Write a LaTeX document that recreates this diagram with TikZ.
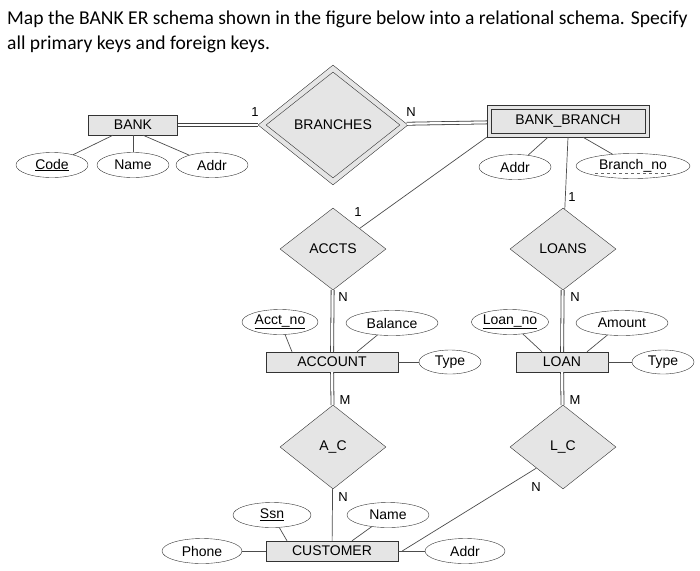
\documentclass[tikz,border=0pt]{standalone}
\usepackage{fontspec}
\setmainfont{Liberation Sans}
\newfontfamily\titlefont{Carlito}
\usetikzlibrary{shapes.geometric,calc}
\begin{document}
\begin{tikzpicture}[x=1pt,y=-1pt,
  ent/.style={draw=black!80,fill=black!10,rectangle,minimum height=20pt,inner sep=0pt,font=\fontsize{14}{14}\selectfont},
  rel/.style={draw=black!80,fill=black!10,diamond,inner sep=0pt,font=\fontsize{14}{14}\selectfont},
  att/.style={draw=black!80,ellipse,minimum height=25pt,inner sep=0pt,font=\fontsize{14}{14}\selectfont},
  ln/.style={draw=black!70,line width=0.7pt},
  dl/.style={draw=black!75,double=white,double distance=2.2pt,line width=0.8pt},
  lab/.style={font=\fontsize{13}{13}\selectfont,inner sep=0pt}]
\useasboundingbox (0,0) rectangle (700,570);
\node[anchor=west,align=left,font=\titlefont\fontsize{19.6}{25}\selectfont,inner sep=0pt] (title) at (7,32)
 {Map the BANK ER schema shown in the figure below into a relational schema. Specify\\all primary keys and foreign keys.};
% entities
\node[ent,minimum width=89pt] (bank) at (133,125) {BANK};
\node[ent,minimum width=162pt,minimum height=32pt] (bb) at (568,121) {};
\node[ent,minimum width=154pt,minimum height=24pt] (bbi) at (568,121) {BANK\_BRANCH};
\node[ent,minimum width=132pt] (acc) at (332,362) {ACCOUNT};
\node[ent,minimum width=92pt] (loan) at (562,362) {LOAN};
\node[ent,minimum width=132pt] (cust) at (332,551) {CUSTOMER};
% relationships
\node[rel,minimum width=150pt,minimum height=120pt] (br) at (333,125) {};
\node[draw=black!80,diamond,inner sep=0pt,minimum width=134pt,minimum height=106pt,font=\fontsize{14}{14}\selectfont] (bri) at (333,125) {BRANCHES};
\node[rel,minimum width=106pt,minimum height=82pt] (accts) at (333,249) {ACCTS};
\node[rel,minimum width=106pt,minimum height=82pt] (loans) at (563,249) {LOANS};
\node[rel,minimum width=106pt,minimum height=84pt] (ac) at (333,447) {A\_C};
\node[rel,minimum width=106pt,minimum height=84pt] (lc) at (563,447) {L\_C};
% attributes
\node[att,minimum width=72pt] (code) at (52,165) {\underline{Code}};
\node[att,minimum width=72pt] (bname) at (133,165) {Name};
\node[att,minimum width=72pt] (baddr) at (212,165) {Addr};
\node[att,minimum width=72pt] (bbaddr) at (515,167) {Addr};
\node[att,minimum width=114pt] (brno) at (633,166) {Branch\_no};
\draw[dashed,black!60] ([xshift=-38pt,yshift=-7pt]brno.center) -- ([xshift=38pt,yshift=-7pt]brno.center);
\node[att,minimum width=76pt] (accno) at (280,322) {\underline{Acct\_no}};
\node[att,minimum width=92pt] (bal) at (392,323) {Balance};
\node[att,minimum width=62pt,minimum height=24pt] (atype) at (450,362) {Type};
\node[att,minimum width=76pt] (loanno) at (510,322) {\underline{Loan\_no}};
\node[att,minimum width=92pt] (amt) at (622,323) {Amount};
\node[att,minimum width=62pt,minimum height=24pt] (ltype) at (663,362) {Type};
\node[att,minimum width=78pt] (ssn) at (272,515) {\underline{Ssn}};
\node[att,minimum width=82pt] (cname) at (388,515) {Name};
\node[att,minimum width=80pt] (phone) at (202,551) {Phone};
\node[att,minimum width=80pt] (caddr) at (465,551) {Addr};
% attribute links
\draw[ln] (code) -- ([xshift=-20pt]bank.south);
\draw[ln] (bname) -- (bank.south);
\draw[ln] (baddr) -- ([xshift=10pt]bank.south);
\draw[ln] (bbaddr) -- ([xshift=-20pt]bb.south);
\draw[ln] (brno) -- ([xshift=15pt]bb.south);
\draw[ln] (accno) -- ([xshift=-40pt]acc.north);
\draw[ln] (bal) -- ([xshift=25pt]acc.north);
\draw[ln] (atype) -- (acc);
\draw[ln] (loanno) -- ([xshift=-20pt]loan.north);
\draw[ln] (amt) -- ([xshift=25pt]loan.north);
\draw[ln] (ltype) -- (loan);
\draw[ln] (ssn) -- ([xshift=-45pt]cust.north);
\draw[ln] (cname) -- ([xshift=20pt]cust.north);
\draw[ln] (phone) -- (cust);
\draw[ln] (caddr) -- (cust);
% relationship links
\draw[dl] (bank) -- (br);
\draw[dl] (br) -- (bb);
\draw[ln] (accts.north east) -- (bb.south west);
\draw[ln] (loans) -- (bb.south);
\draw[dl] (accts) -- (acc);
\draw[dl] (acc) -- (ac);
\draw[ln] (ac) -- (cust);
\draw[dl] (loans) -- (loan);
\draw[dl] (loan) -- (lc);
\draw[ln] (lc.south west) -- ([xshift=4pt]cust.east);
% cardinalities
\node[lab] (c1) at (255,112) {1};
\node[lab] (c2) at (411,112) {N};
\node[lab] (c3) at (358,212) {1};
\node[lab] (c4) at (572,197) {1};
\node[lab] (c5) at (343,297) {N};
\node[lab] (c6) at (575,297) {N};
\node[lab] (c7) at (345,400) {M};
\node[lab] (c8) at (575,400) {M};
\node[lab] (c9) at (343,497) {N};
\node[lab] (c10) at (536,487) {N};
\end{tikzpicture}
\end{document}
